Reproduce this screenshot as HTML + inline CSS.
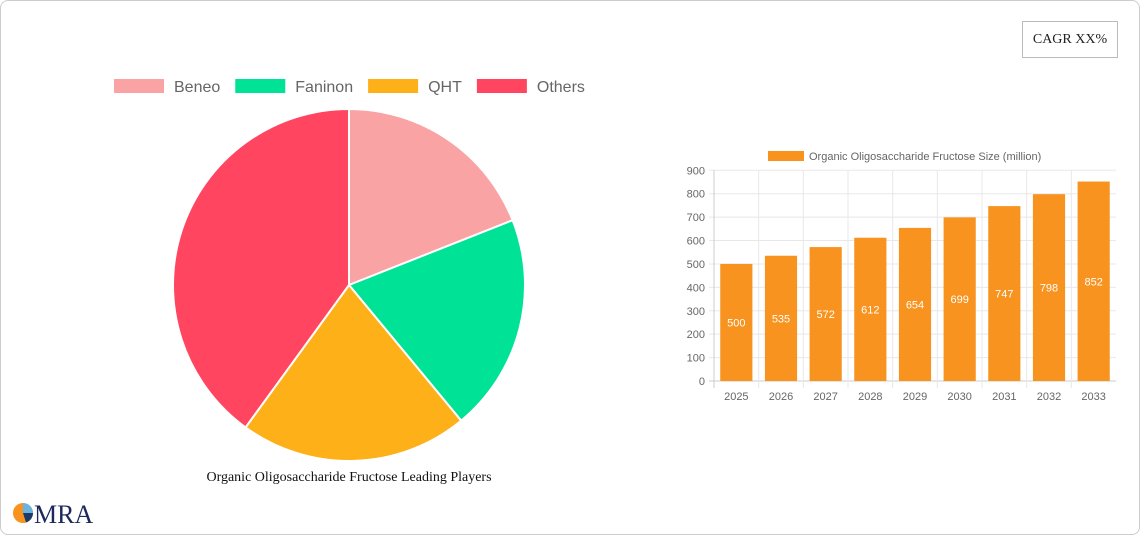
<!DOCTYPE html>
<html><head><meta charset="utf-8"><style>
body{margin:0;background:#fff;font-family:"Liberation Sans",sans-serif}
#card{position:absolute;left:0;top:0;width:1138px;height:533px;border:1px solid #ccc;border-radius:8px;background:#fff}
#cagr{position:absolute;left:1021px;top:20px;width:96px;height:37px;border:1px solid #bbb;font-family:"Liberation Serif",serif;font-size:14px;display:flex;align-items:center;justify-content:center;color:#222;box-sizing:border-box}
</style></head><body>
<div id="card">
<div id="cagr">CAGR XX%</div>
<svg width="1140" height="535" style="position:absolute;left:0;top:0" id="svg"></svg>
</div>
<script>
const pieLabels=["Beneo","Faninon","QHT","Others"];
const pieValues=[19,20,21,40];
const pieColors=["#f9a3a4","#00e396","#feb019","#ff4560"];
const years=["2025","2026","2027","2028","2029","2030","2031","2032","2033"];
const sizes=[500,535,572,612,654,699,747,798,852];
const yTicks=[0,100,200,300,400,500,600,700,800,900];
const NS="http://www.w3.org/2000/svg";
const svg=document.getElementById('svg');
function el(t,a,p){const e=document.createElementNS(NS,t);for(const k in a)e.setAttribute(k,a[k]);(p||svg).appendChild(e);return e;}
// legend
let lx=113;
pieLabels.forEach((l,i)=>{
 const g=el('g',{});
 
 
 el('rect',{x:lx,y:78,width:50,height:14,fill:pieColors[i]},g);
 const t=el('text',{x:lx+60,y:91,'font-size':16,fill:'#666'},g);t.textContent=l;
 lx+=60+t.getComputedTextLength()+15;
});
// pie
const cx=348,cy=284,r=176;
const tot=pieValues.reduce((a,b)=>a+b,0);
let a0=0;
pieValues.forEach((v,i)=>{
 const a1=a0+v/tot*2*Math.PI;
 const x0=cx+r*Math.sin(a0),y0=cy-r*Math.cos(a0),x1=cx+r*Math.sin(a1),y1=cy-r*Math.cos(a1);
 const p=el('path',{d:`M${cx},${cy}L${x0},${y0}A${r},${r} 0 ${a1-a0>Math.PI?1:0} 1 ${x1},${y1}Z`,fill:pieColors[i],stroke:'#fff','stroke-width':2});
 
 
 a0=a1;
});
const pt=el('text',{x:348,y:480,'text-anchor':'middle','font-size':14,'font-family':'Liberation Serif,serif',fill:'#111'});

pt.textContent='Organic Oligosaccharide Fructose Leading Players';
// bar chart
const X0=713,X1=1115,Y0=380,Y1=169.3,cw=(X1-X0)/years.length;
const yv=v=>Y0-(v/900)*(Y0-Y1);
yTicks.forEach(t=>{
 el('line',{x1:X0-5,x2:X1,y1:yv(t),y2:yv(t),stroke:t==0?'#ccc':'#e8e8e8'});
 const tx=el('text',{x:X0-9,y:yv(t)+4,'text-anchor':'end','font-size':11,fill:'#666'});tx.textContent=t;
});
years.forEach((y,i)=>{
 el('line',{x1:X0+i*cw,x2:X0+i*cw,y1:Y1,y2:Y0+7,stroke:i==0?'#ccc':'#e8e8e8'});
 const tx=el('text',{x:X0+(i+.5)*cw,y:399,'text-anchor':'middle','font-size':11,fill:'#666'});tx.textContent=y;
 const bw=cw*0.72,bx=X0+(i+.5)*cw-bw/2;
 const b=el('rect',{x:bx,y:yv(sizes[i]),width:bw,height:Y0-yv(sizes[i]),fill:'#f7931e'});
 
 const vl=el('text',{x:X0+(i+.5)*cw,y:(yv(sizes[i])+Y0)/2+4,'text-anchor':'middle','font-size':11,fill:'#fff'});vl.textContent=sizes[i];
});
const lg=el('g',{});
el('rect',{x:767,y:150,width:36,height:10,fill:'#f7931e'},lg);
const lt=el('text',{x:808,y:159,'font-size':11,fill:'#666'},lg);lt.textContent='Organic Oligosaccharide Fructose Size (million)';
// logo
const lgG=el('g',{});
el('circle',{cx:22,cy:512,r:10,fill:'#f7931e'},lgG);
el('path',{d:'M22,512L22,502A10,10 0 0 1 32,512Z',fill:'#6cb4e0'},lgG);
el('path',{d:'M22,512L32,512A10,10 0 0 1 25,521.5Z',fill:'#1b3a6b'},lgG);
const mt=el('text',{x:33,y:522,'font-size':26,'font-family':'Liberation Serif,serif',fill:'#1b2a5b'},lgG);mt.textContent='MRA';
</script>
</body></html>
